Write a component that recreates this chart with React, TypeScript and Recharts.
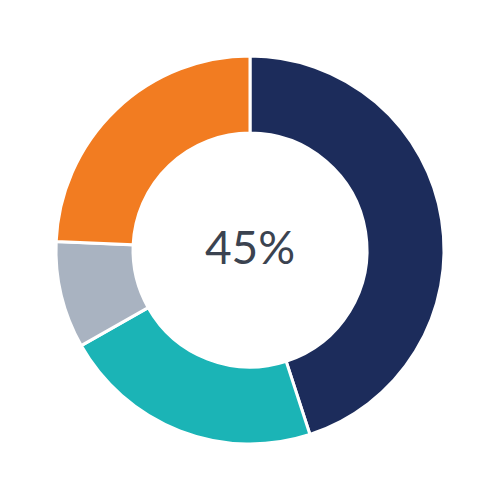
import { Cell, Pie, PieChart } from "recharts";

const labels = ["Navy", "Teal", "Gray", "Orange"];
const values = [45, 21.8, 8.9, 24.3];
const colors = ["#1c2c5b", "#1bb4b6", "#a9b3c1", "#f27c21"];
const centerLabel = "45%";

const data = labels.map((name, i) => ({ name, value: values[i] }));

export default function App() {
  return (
    <div style={{ position: "fixed", top: 0, left: 0, width: 500, height: 500, background: "#fff" }}>
      <PieChart width={500} height={500} margin={{ top: 0, right: 0, bottom: 0, left: 0 }}>
        <Pie
          data={data}
          dataKey="value"
          cx={250}
          cy={250}
          innerRadius={117}
          outerRadius={194}
          startAngle={90}
          endAngle={-270}
          stroke="#fff"
          strokeWidth={3}
          isAnimationActive={false}
        >
          {data.map((d, i) => (
            <Cell key={d.name} fill={colors[i]} />
          ))}
        </Pie>
        <text
          x={250}
          y={246}
          textAnchor="middle"
          dominantBaseline="central"
          style={{ fontFamily: "Lato", fontSize: 46, fill: "#3b4350" }}
        >
          {centerLabel}
        </text>
      </PieChart>
    </div>
  );
}
